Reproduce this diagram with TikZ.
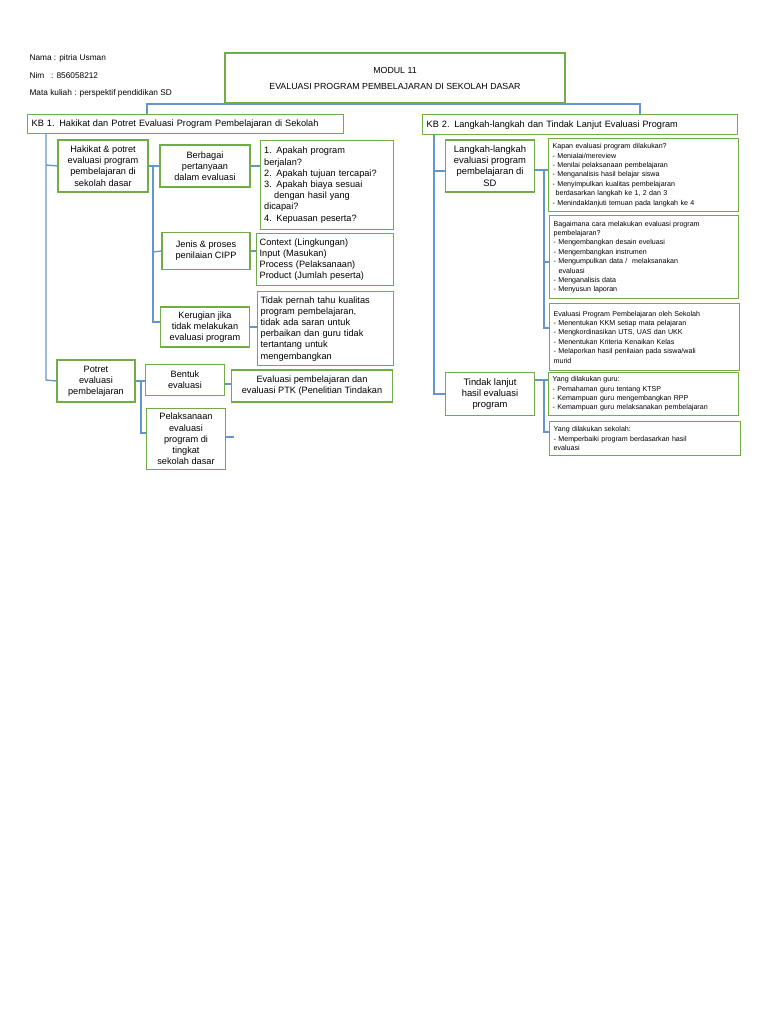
\documentclass[tikz,border=0pt]{standalone}
\usepackage{fontspec}
\setmainfont{Liberation Sans}
\begin{document}
\begin{tikzpicture}[x=1pt,y=-1pt,
 box/.style={draw=boxg,line width=1.3pt,inner sep=2pt,font=\fontsize{9.2}{11.2}\selectfont,align=center},
 sbox/.style={box,font=\fontsize{7.1}{9.4}\selectfont,align=left,anchor=north west,inner sep=4pt},
 con/.style={draw=lineb,line width=1.3pt}]
\definecolor{boxg}{RGB}{112,173,71}
\definecolor{lineb}{RGB}{100,150,205}
\useasboundingbox (0,0) rectangle (768,1024);
\fill[white] (0,0) rectangle (768,1024);
\begin{scope}[font=\fontsize{8.3}{9}\selectfont]
\node[anchor=west] (nama) at (26,58) {Nama : pitria Usman};
\node[anchor=west] (nim) at (26,76) {Nim \ \ : 856058212};
\node[anchor=west] (mk) at (26,93) {Mata kuliah : perspektif pendidikan SD};
\end{scope}
\node[box,minimum width=340,minimum height=50,font=\fontsize{8.8}{16}\selectfont] (modul) at (395,78) {MODUL 11\\EVALUASI PROGRAM PEMBELAJARAN DI SEKOLAH DASAR};
\node[box,minimum width=316,minimum height=19,anchor=north west,align=left,text width=308] (kb1) at (27,114) {KB 1. Hakikat dan Potret Evaluasi Program Pembelajaran di Sekolah};
\node[box,minimum width=315,minimum height=20,anchor=north west,align=left,text width=307] (kb2) at (422,114) {KB 2. Langkah-langkah dan Tindak Lanjut Evaluasi Program};
\coordinate (jl) at (147,104); \coordinate (jr) at (640,104);
\draw[con] (modul.south) -- (395,104);
\draw[con] (kb1.north -| jl) -- (jl) -- (jr) -- (kb2.north -| jr);
% left
\node[box,minimum width=90,minimum height=52] (hak) at (103,166) {Hakikat \& potret\\evaluasi program\\pembelajaran di\\sekolah dasar};
\node[box,minimum width=90,minimum height=42] (ber) at (205,166) {Berbagai\\pertanyaan\\dalam evaluasi};
\node[box,minimum width=133,minimum height=89,text width=126,align=left,anchor=north west] (q) at (260,140) {1. Apakah program\\berjalan?\\2. Apakah tujuan tercapai?\\3. Apakah biaya sesuai\\\hspace*{10pt}dengan hasil yang\\dicapai?\\4. Kepuasan peserta?};
\node[box,minimum width=88,minimum height=37] (jen) at (206,251) {Jenis \& proses\\penilaian CIPP};
\node[box,minimum width=137,minimum height=52,text width=131,align=left,anchor=north west] (cipp) at (256,233) {Context (Lingkungan)\\Input (Masukan)\\Process (Pelaksanaan)\\Product (Jumlah peserta)};
\node[box,minimum width=89,minimum height=40] (ker) at (205,327) {Kerugian jika\\tidak melakukan\\evaluasi program};
\node[box,minimum width=136,minimum height=74,text width=130,align=left,anchor=north west] (tid) at (257,291) {Tidak pernah tahu kualitas\\program pembelajaran,\\tidak ada saran untuk\\perbaikan dan guru tidak\\tertantang untuk\\mengembangkan};
\node[box,minimum width=78,minimum height=42] (pot) at (96,381) {Potret\\evaluasi\\pembelajaran};
\node[box,minimum width=79,minimum height=31] (ben) at (185,380) {Bentuk\\evaluasi};
\node[box,minimum width=161,minimum height=32] (ptk) at (312,386) {Evaluasi pembelajaran dan\\evaluasi PTK (Penelitian Tindakan};
\node[box,minimum width=79,minimum height=61] (pel) at (186,439) {Pelaksanaan\\evaluasi\\program di\\tingkat\\sekolah dasar};
\draw[con] (46,133) -- (46,380) -- (pot.west);
\draw[con] (46,165) -- (hak.west);
\draw[con] (hak.east) -- (153,166) -- (ber.west);
\draw[con] (153,166) -- (153,322) -- (ker.west |- 0,322);
\draw[con] (153,252) -- (jen.west);
\draw[con] (ber.east) -- (q.west |- ber.east);
\draw[con] (jen.east) -- (cipp.west |- jen.east);
\draw[con] (ker.east) -- (tid.west |- ker.east);
\draw[con] (pot.east) -- (141,381) -- (ben.west |- 0,381);
\draw[con] (141,381) -- (141,433) -- (pel.west |- 0,433);
\draw[con] (ben.east |- 0,384) -- (ptk.west |- 0,384);
\coordinate (stub) at (234,437);
\draw[con] (pel.east |- stub) -- (stub);
% right
\node[box,minimum width=89,minimum height=52,font=\fontsize{9.4}{11.2}\selectfont] (lan) at (490,166) {Langkah-langkah\\evaluasi program\\pembelajaran di\\SD};
\node[sbox,minimum width=190,minimum height=73,text width=182] (kap) at (548,138) {Kapan evaluasi program dilakukan?\\- Menialai/mereview\\- Menilai pelaksanaan pembelajaran\\- Menganalisis hasil belajar siswa\\- Menyimpulkan kualitas pembelajaran\\\hspace*{3pt}berdasarkan langkah ke 1, 2 dan 3\\- Menindaklanjuti temuan pada langkah ke 4};
\node[sbox,minimum width=189,minimum height=83,text width=181] (bag) at (549,215) {Bagaimana cara melakukan evaluasi program\\pembelajaran?\\- Mengembangkan desain eveluasi\\- Mengembangkan instrumen\\- Mengumpulkan data / \ melaksanakan\\\hspace*{5pt}evaluasi\\- Menganalisis data\\- Menyusun laporan};
\node[sbox,minimum width=190,minimum height=67,text width=182] (eps) at (549,303) {Evaluasi Program Pembelajaran oleh Sekolah\\- Menentukan KKM setiap mata pelajaran\\- Mengkordinasikan UTS, UAS dan UKK\\- Menentukan Kriteria Kenaikan Kelas\\- Melaporkan hasil penilaian pada siswa/wali\\murid};
\node[box,minimum width=89,minimum height=43,font=\fontsize{9.4}{11.2}\selectfont] (tin) at (490,394) {Tindak lanjut\\hasil evaluasi\\program};
\node[sbox,minimum width=190,minimum height=40,text width=182] (gur) at (548,372) {Yang dilakukan guru:\\- Pemahaman guru tentang KTSP\\- Kemampuan guru mengembangkan RPP\\- Kemampuan guru melaksanakan pembelajaran};
\node[sbox,minimum width=191,minimum height=34,text width=183] (sek) at (549,421) {Yang dilakukan sekolah:\\- Memperbaiki program berdasarkan hasil\\evaluasi};
\draw[con] (434,135) -- (434,394) -- (tin.west);
\draw[con] (434,171) -- (lan.west |- 0,171);
\draw[con] (lan.east |- 0,170) -- (544,170) -- (kap.west |- 0,170);
\draw[con] (544,170) -- (544,328) -- (eps.west |- 0,328);
\draw[con] (544,262) -- (bag.west |- 0,262);
\draw[con] (tin.east |- 0,380) -- (544,380) -- (gur.west |- 0,380);
\draw[con] (544,380) -- (544,432) -- (sek.west |- 0,432);
\end{tikzpicture}
\end{document}
